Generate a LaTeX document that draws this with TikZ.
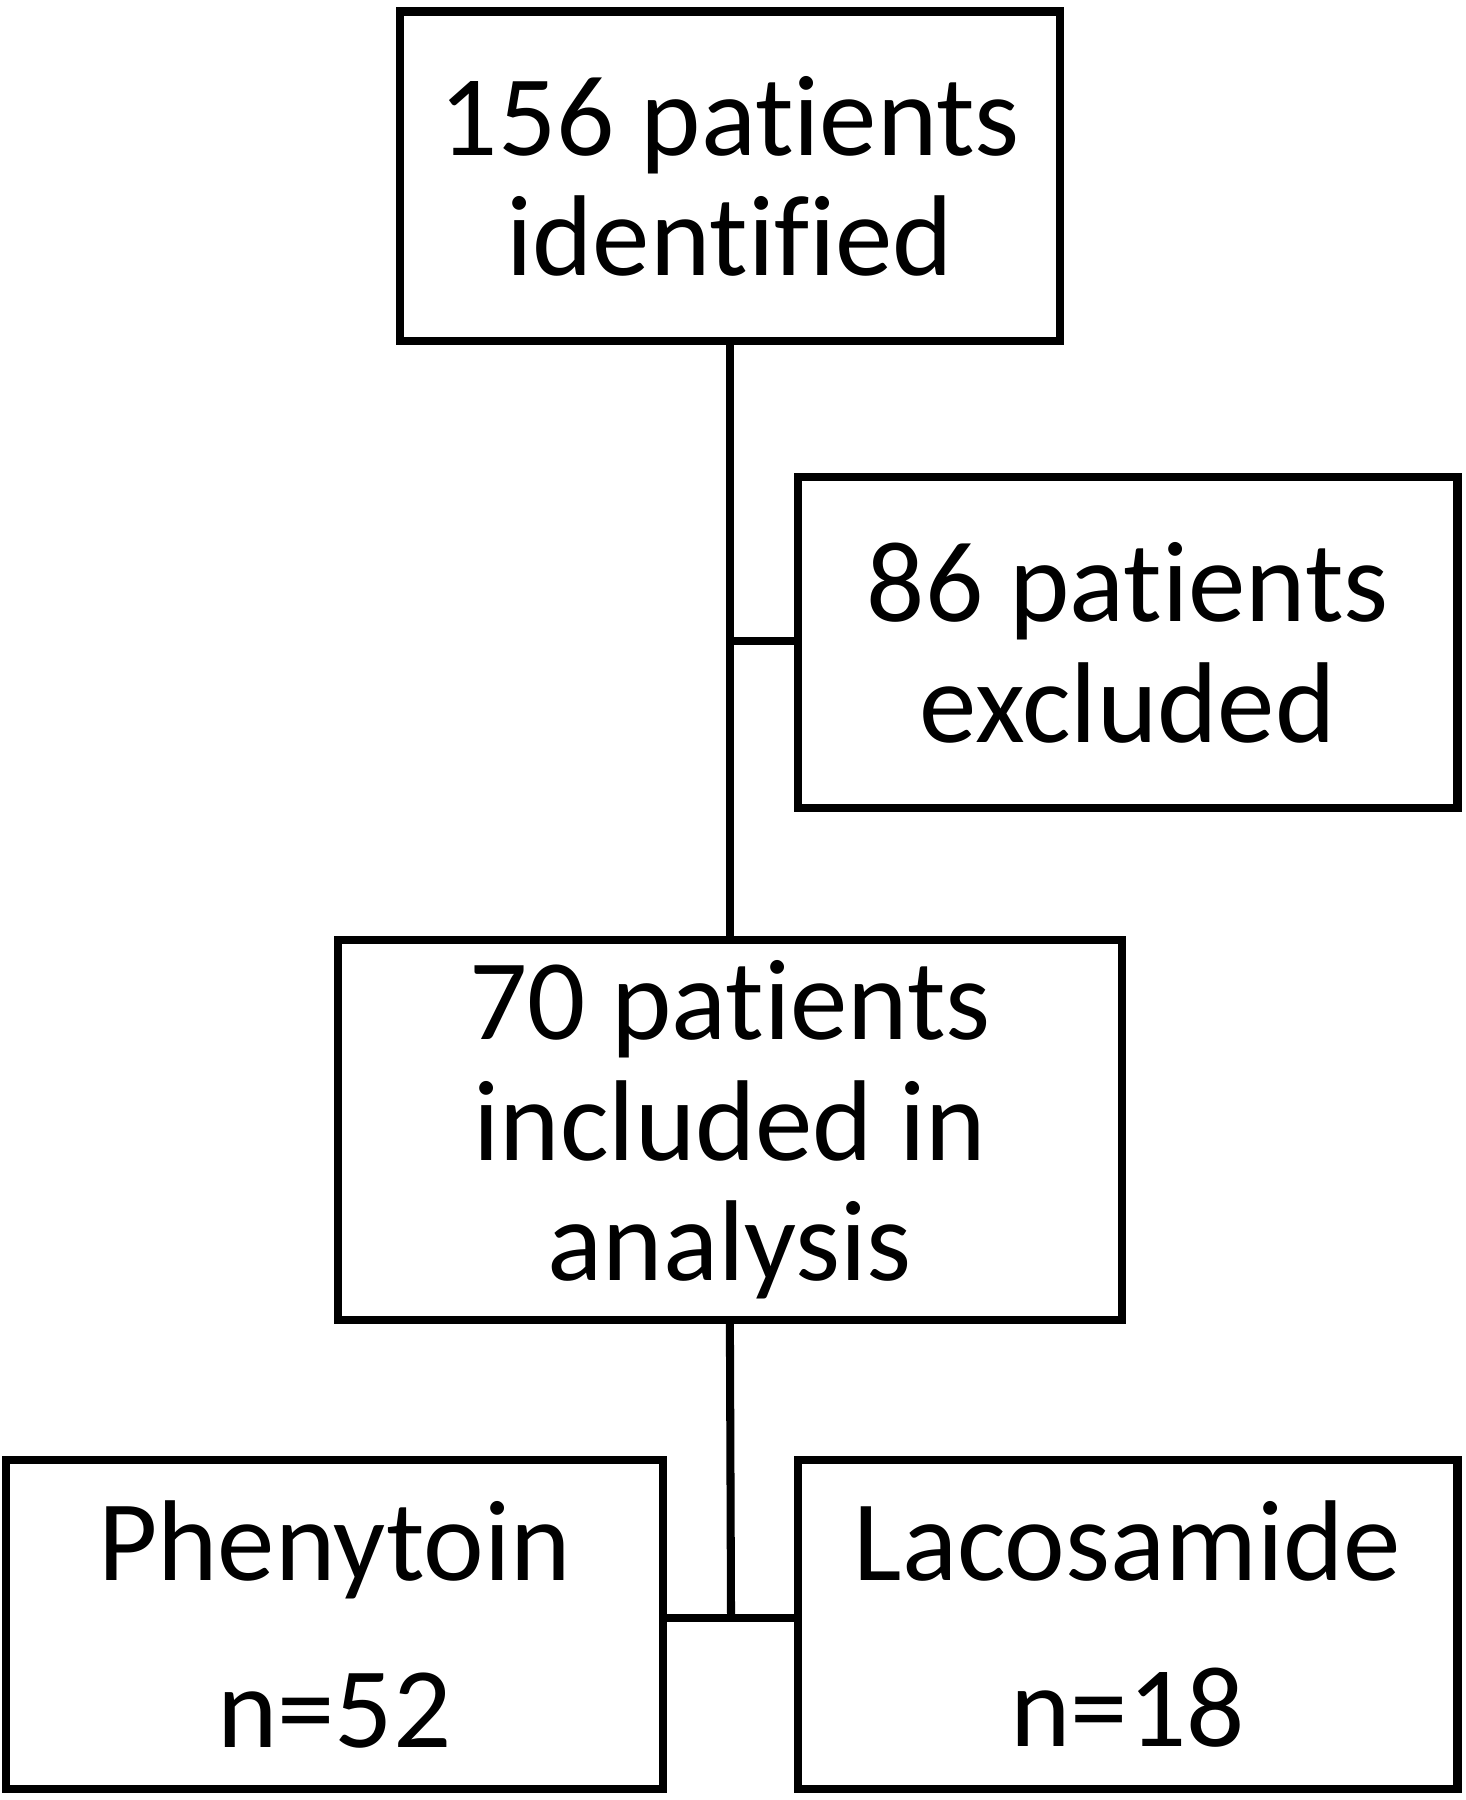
\documentclass[tikz,border=0pt]{standalone}
\usepackage{fontspec}
\setmainfont[Ligatures={NoCommon}]{Carlito}
\begin{document}
\begin{tikzpicture}[x=1pt,y=-1pt,
  box/.style={draw,line width=7pt,minimum width=#1,inner sep=0pt,align=center,
    font=\fontsize{100}{105}\selectfont},
  ln/.style={line width=7pt}]
\useasboundingbox (0,0) rectangle (1275,1566);
\node[box=574pt,minimum height=287pt] (a) at (635,153.5) {156 patients\\identified};
\node[box=574pt,minimum height=288pt] (b) at (981,559) {86 patients\\excluded};
\node[box=682pt,minimum height=330pt] (c) at (635,983) {70 patients\\included in\\analysis};
\node[box=572pt,minimum height=286pt,font=\fontsize{100}{145}\selectfont] (d) at (291,1413) {Phenytoin\\n=52};
\node[box=574pt,minimum height=286pt,font=\fontsize{100}{145}\selectfont] (e) at (981,1413) {Lacosamide\\n=18};
\coordinate (j1) at (636,558);
\coordinate (j2) at (636,1408);
\draw[ln] (a.south) -- (c.north);
\draw[ln] (j1) -- (j1 -| b.west);
\draw[ln] (c.south) -- (j2);
\draw[ln] (j2 -| d.east) -- (j2 -| e.west);
\end{tikzpicture}
\end{document}
